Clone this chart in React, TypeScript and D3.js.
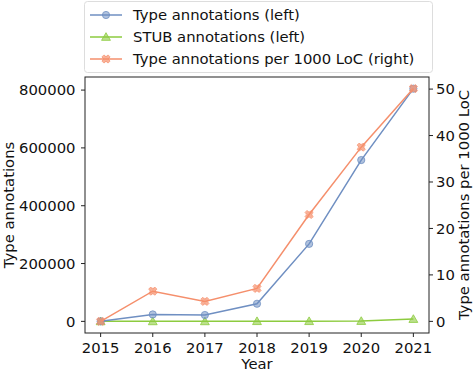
import React from "react";
import * as d3 from "d3";

const years = [2015, 2016, 2017, 2018, 2019, 2020, 2021];
const typeAnnotations = [0, 24000, 22000, 61000, 268000, 558000, 805000];
const stubAnnotations = [0, 0, 0, 500, 500, 1000, 8000];
const perKLoC = [0, 6.5, 4.3, 7.1, 23.0, 37.5, 50.1];
const leftTicks = [0, 200000, 400000, 600000, 800000];
const rightTicks = [0, 10, 20, 30, 40, 50];

const W = 474;
const H = 372;
const box = { left: 85, right: 429, top: 77, bottom: 333 };
const FONT = "DejaVu Sans, sans-serif";
const FS = 14.8;

const BLUE = "#6f8fc2";
const GREEN = "#8dcb3f";
const ORANGE = "#f58f6c";

export default function App() {
  const x = d3.scaleLinear().domain([2014.7, 2021.3]).range([box.left, box.right]);
  const yL = d3.scaleLinear().domain([-40250, 845250]).range([box.bottom, box.top]);
  const yR = d3.scaleLinear().domain([-2.505, 52.6]).range([box.bottom, box.top]);

  const lineL = d3.line<number>().x((_, i) => x(years[i])).y((d) => yL(d));
  const lineR = d3.line<number>().x((_, i) => x(years[i])).y((d) => yR(d));

  const tri = d3.symbol().type(d3.symbolTriangle).size(34)() as string;
  const cross = d3.symbol().type(d3.symbolCross).size(42)() as string;

  const circleMarker = (cx: number, cy: number, key: any) => (
    <circle key={key} cx={cx} cy={cy} r={3.6} fill={BLUE} fillOpacity={0.55} stroke={BLUE} strokeWidth={0.8} />
  );
  const triMarker = (cx: number, cy: number, key: any) => (
    <path key={key} d={tri} transform={`translate(${cx},${cy + 0.8})`} fill={GREEN} fillOpacity={0.6} stroke={GREEN} strokeWidth={0.8} />
  );
  const xMarker = (cx: number, cy: number, key: any) => (
    <g key={key} transform={`translate(${cx},${cy})`}>
      <circle r={3.6} fill={ORANGE} fillOpacity={0.35} />
      <path d={cross} transform="rotate(45)" fill={ORANGE} fillOpacity={0.55} stroke={ORANGE} strokeWidth={0.7} />
    </g>
  );

  const legendItems = [
    { label: "Type annotations (left)", color: BLUE, marker: circleMarker },
    { label: "STUB annotations (left)", color: GREEN, marker: triMarker },
    { label: "Type annotations per 1000 LoC (right)", color: ORANGE, marker: xMarker },
  ];

  return (
    <svg width={W} height={H} style={{ position: "absolute", left: 0, top: 0, background: "#fff" }} fontFamily={FONT}>
      {/* series */}
      <path d={lineL(stubAnnotations) as string} fill="none" stroke={GREEN} strokeWidth={1.5} />
      {stubAnnotations.map((v, i) => triMarker(x(years[i]), yL(v), "s" + i))}
      <path d={lineL(typeAnnotations) as string} fill="none" stroke={BLUE} strokeWidth={1.5} />
      {typeAnnotations.map((v, i) => circleMarker(x(years[i]), yL(v), "t" + i))}
      <path d={lineR(perKLoC) as string} fill="none" stroke={ORANGE} strokeWidth={1.5} />
      {perKLoC.map((v, i) => xMarker(x(years[i]), yR(v), "p" + i))}

      {/* frame */}
      <rect x={box.left} y={box.top} width={box.right - box.left} height={box.bottom - box.top} fill="none" stroke="#222" strokeWidth={1} />

      {/* x axis */}
      {years.map((yr) => (
        <g key={yr} transform={`translate(${x(yr)},${box.bottom})`}>
          <line y2={4} stroke="#222" />
          <text y={19.5} textAnchor="middle" fontSize={FS} fill="#111">{yr}</text>
        </g>
      ))}
      <text x={(box.left + box.right) / 2} y={369} textAnchor="middle" fontSize={FS} fill="#111">Year</text>

      {/* left axis */}
      {leftTicks.map((t) => (
        <g key={t} transform={`translate(${box.left},${yL(t)})`}>
          <line x2={-4} stroke="#222" />
          <text x={-9.5} dy="0.36em" textAnchor="end" fontSize={FS} fill="#111">{t}</text>
        </g>
      ))}
      <text transform={`translate(14,${(box.top + box.bottom) / 2}) rotate(-90)`} textAnchor="middle" fontSize={FS} fill="#111">Type annotations</text>

      {/* right axis */}
      {rightTicks.map((t) => (
        <g key={t} transform={`translate(${box.right},${yR(t)})`}>
          <line x2={4} stroke="#222" />
          <text x={7} dy="0.36em" textAnchor="start" fontSize={FS} fill="#111">{t}</text>
        </g>
      ))}
      <text transform={`translate(469,${(box.top + box.bottom) / 2}) rotate(-90)`} textAnchor="middle" fontSize={FS} fill="#111">Type annotations per 1000 LoC</text>

      {/* legend */}
      <rect x={84.5} y={1.5} width={348} height={71} rx={3} fill="#fff" fillOpacity={0.85} stroke="#ddd" />
      {legendItems.map((it, i) => {
        const cy = 15 + i * 22;
        return (
          <g key={it.label}>
            <line x1={90} x2={122} y1={cy} y2={cy} stroke={it.color} strokeWidth={1.5} />
            {it.marker(106, cy, "m")}
            <text x={133} y={cy} dy="0.36em" fontSize={FS} fill="#111">{it.label}</text>
          </g>
        );
      })}
    </svg>
  );
}
